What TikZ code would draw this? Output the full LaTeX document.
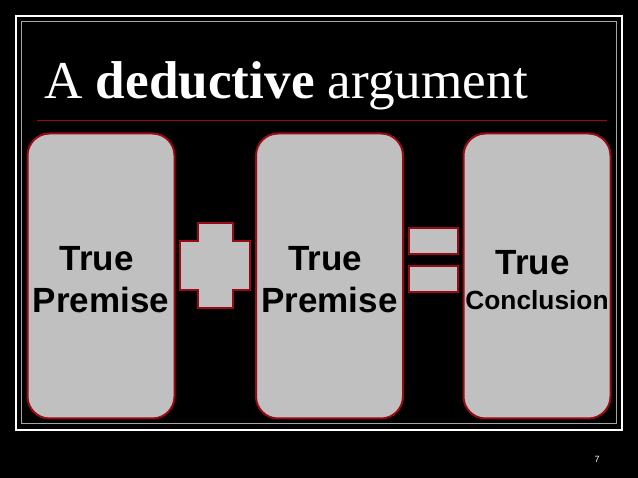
\documentclass[tikz,border=0pt]{standalone}
\usepackage{fontspec}
\setmainfont{Liberation Serif}
\setsansfont{Liberation Sans}
\usepackage{tikz}
\definecolor{darkred}{HTML}{9A0A14}
\definecolor{panelgray}{HTML}{C0C0C0}
\newcommand{\toppad}{\rule{0pt}{32pt}}
\tikzset{
	%	px coordinates, y going down
	panel/.style={draw=darkred,line width=2pt,fill=panelgray,rounded corners=22pt,minimum width=147pt,minimum height=285pt,align=center,text=black,inner sep=0pt,font=\sffamily\bfseries\fontsize{35}{42}\selectfont},
	sign/.style={draw=darkred,line width=2pt,fill=panelgray},
	bar/.style={sign,minimum width=49pt,minimum height=26pt,inner sep=0pt}
}

\begin{document}
\begin{tikzpicture}[x=1pt,y=-1pt]
		\useasboundingbox (0, 0) rectangle (638, 478);
		\fill[black] (0, 0) rectangle (638, 478);
		\draw[white,line width=2.6pt] (16, 16) rectangle (622, 430);
		\draw[gray!70,line width=1pt] (21.5, 21.5) rectangle (616.5, 423.5);
		
		\node[anchor=base west,inner sep=0pt,text=white,font=\fontsize{53.2}{60}\selectfont] (title) at (44, 99) {A \textbf{deductive} argument};
		\coordinate (ruleL) at (37, 120.5);
		\coordinate (ruleR) at (607, 120.5);
		\draw[darkred,line width=1pt] (ruleL) -- (ruleR);
		
		\node[panel] (p1) at (101, 276) {\toppad True\kern9pt\\Premise};
		\node[panel] (p2) at (329.5, 276) {\toppad True\kern9pt\\Premise};
		\node[panel] (p3) at (537, 276) {\toppad True\kern9pt\\[-7pt]{\fontsize{26.3}{30}\selectfont Conclusion}};
		
		\draw[sign] (198, 223) -- (233, 223) -- (233, 241) -- (250, 241) -- (250, 290) -- (233, 290) -- (233, 308) -- (198, 308) -- (198, 290) -- (180, 290) -- (180, 241) -- (198, 241) -- cycle;
		\node[bar] (eq1) at (433, 241.5) {};
		\node[bar] (eq2) at (433, 279) {};
		
		\node[text=white,inner sep=0pt,font=\sffamily\fontsize{9}{10}\selectfont] (num) at (597, 459) {7};
		\end{tikzpicture}
\end{document}
